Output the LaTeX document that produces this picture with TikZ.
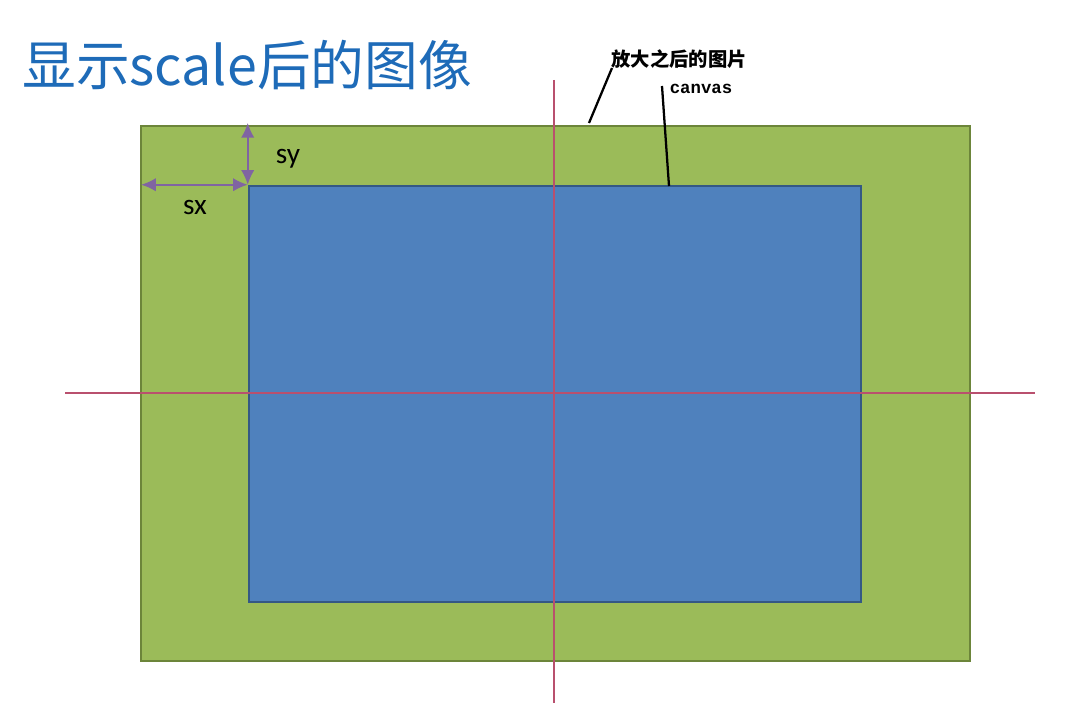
\documentclass[tikz,border=0pt]{standalone}
\usepackage{fontspec}
\usepackage{tikz}
\usetikzlibrary{arrows.meta}

\newfontfamily\cjk{Noto Sans CJK SC}
\newfontfamily\calib{Carlito}
\newfontfamily\monob{Liberation Mono}[BoldFont={* Bold}]

\definecolor{picfill}{RGB}{155,187,89}
\definecolor{picline}{RGB}{108,133,58}
\definecolor{canfill}{RGB}{79,129,189}
\definecolor{canline}{RGB}{52,88,132}
\definecolor{axisline}{RGB}{185,80,110}
\definecolor{offline}{RGB}{128,100,162}
\definecolor{titleblue}{RGB}{30,107,184}

\tikzset{
    picbox/.style={draw=picline, fill=picfill, line width=2.2pt, inner sep=0pt},
    canbox/.style={draw=canline, fill=canfill, line width=1.9pt, inner sep=0pt},
    axis/.style={draw=axisline, line width=0.9pt},
    offset/.style={draw=offline, line width=1.3pt, {Latex[length=11pt,width=10pt]}-{Latex[length=11pt,width=10pt]}},
    leader/.style={draw=black, line width=1.7pt}
}

\begin{document}
\begin{tikzpicture}[x=0.75pt,y=0.75pt,yscale=-1,xscale=1]
            \useasboundingbox (0,0) rectangle (1072,720);

            % Title
            \draw (22,65) node [anchor=west][inner sep=0pt][text=titleblue] (title) {\cjk\fontsize{40.3}{46}\selectfont 显示scale后的图像};

            % Scaled picture and canvas
            \node [picbox, minimum width=621.75pt, minimum height=401.25pt] (pic) at (555.5,393.5) {};
            \node [canbox, minimum width=459pt, minimum height=312pt] (canvas) at (555,394) {};

            % Center lines
            \coordinate (vtop) at (554,80);
            \coordinate (vbot) at (554,703);
            \coordinate (hleft) at (65,393);
            \coordinate (hright) at (1035,393);
            \draw [axis] (vtop) -- (vbot);
            \draw [axis] (hleft) -- (hright);

            % Offsets sx, sy
            \draw [offset] ([yshift=-1.2pt]pic.north -| canvas.north west) -- (canvas.north west);
            \draw [offset] ([xshift=1.2pt]pic.west |- canvas.north west) -- (canvas.north west);
            \draw (288,159) node [inner sep=0.75pt] (sy) {\calib\fontsize{22}{26}\selectfont sy};
            \draw (195,207) node [inner sep=0.75pt] (sx) {\calib\fontsize{22}{26}\selectfont sx};

            % Labels with leaders
            \draw (679,59) node [inner sep=0.75pt] (piclbl) {\cjk\bfseries\fontsize{14.5}{16}\selectfont 放大之后的图片};
            \draw (701,89) node [inner sep=0.75pt] (canlbl) {\monob\bfseries\fontsize{13}{15}\selectfont canvas};
            \coordinate (picstart) at (612,68);
            \coordinate (picend) at (589,123);
            \coordinate (canstart) at (662,86);
            \coordinate (canend) at (669,186);
            \draw [leader] (picstart) -- (picend);
            \draw [leader] (canstart) -- (canend);

            \end{tikzpicture}
\end{document}
